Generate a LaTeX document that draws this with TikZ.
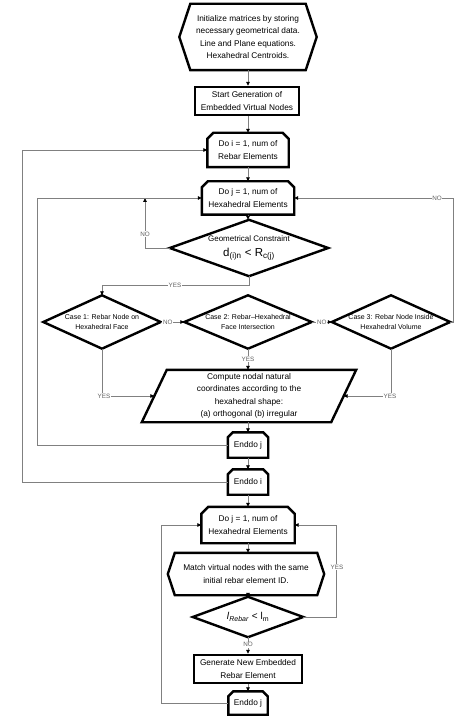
\documentclass[tikz,border=0pt]{standalone}
\usepackage{fontspec}
\setmainfont{Liberation Sans}
\usetikzlibrary{arrows.meta}
\definecolor{conn}{RGB}{128,128,128}
\definecolor{labc}{RGB}{95,95,95}
\begin{document}
\begin{tikzpicture}[x=1pt,y=-1pt,
  txt/.style={inner sep=0pt, align=center, font=\fontsize{8.3}{12.5}\selectfont},
  small/.style={inner sep=0pt, align=center, font=\fontsize{7}{10}\selectfont},
  outline/.style={draw=black, line width=2.4pt},
  boxed/.style={txt, draw=black, line width=2.4pt},
  conn/.style={draw=conn, line width=0.8pt},
  arr/.style={conn, -{Triangle[length=4pt,width=3.6pt,color=black]}},
  lab/.style={fill=white, inner sep=0.6pt, text=labc, font=\fontsize{6.3}{6.3}\selectfont},
]
\fill[white] (0,0) rectangle (474,719);
\useasboundingbox (0,0) rectangle (474,719);

% ---------- nodes ----------
\node[txt, minimum width=115pt, minimum height=66pt] (init) at (248,37)
  {Initialize matrices by storing\\necessary geometrical data.\\Line and Plane equations.\\Hexahedral Centroids.};
\draw[outline] ([xshift=-11pt]init.west) -- (init.north west) -- (init.north east)
  -- ([xshift=11pt]init.east) -- (init.south east) -- (init.south west) -- cycle;

\node[boxed, minimum width=104pt, minimum height=28pt] (start) at (247,101)
  {Start Generation of\\Embedded Virtual Nodes};

\node[txt, minimum width=81pt, minimum height=34pt] (doi) at (248,150)
  {Do i = 1, num of\\Rebar Elements};
\draw[outline] (doi.south west) -- ([yshift=-6pt]doi.north west) -- ([xshift=6pt]doi.north west)
  -- ([xshift=-6pt]doi.north east) -- ([yshift=-6pt]doi.north east) -- (doi.south east) -- cycle;

\node[txt, minimum width=92pt, minimum height=33pt] (doj) at (248,198)
  {Do j = 1, num of\\Hexahedral Elements};
\draw[outline] (doj.south west) -- ([yshift=-6pt]doj.north west) -- ([xshift=6pt]doj.north west)
  -- ([xshift=-6pt]doj.north east) -- ([yshift=-6pt]doj.north east) -- (doj.south east) -- cycle;

\node[txt, minimum width=158pt, minimum height=56pt, font=\fontsize{8}{12}\selectfont] (geo) at (249,248)
  {Geometrical Constraint\\[3pt]{\fontsize{11.5}{13}\selectfont d\textsubscript{(i)n} {<} R\textsubscript{c(j)}}};
\draw[outline] (geo.north) -- (geo.east) -- (geo.south) -- (geo.west) -- cycle;

\node[small, minimum width=117pt, minimum height=53pt] (case1) at (102,322)
  {Case 1: Rebar Node on\\Hexahedral Face};
\draw[outline] (case1.north) -- (case1.east) -- (case1.south) -- (case1.west) -- cycle;

\node[small, minimum width=127pt, minimum height=53pt] (case2) at (248,322)
  {Case 2: Rebar–Hexahedral\\Face Intersection};
\draw[outline] (case2.north) -- (case2.east) -- (case2.south) -- (case2.west) -- cycle;

\node[small, minimum width=118pt, minimum height=53pt] (case3) at (391,322)
  {Case 3: Rebar Node Inside\\Hexahedral Volume};
\draw[outline] (case3.north) -- (case3.east) -- (case3.south) -- (case3.west) -- cycle;

\node[txt, minimum width=189pt, minimum height=52pt] (comp) at (249,396)
  {Compute nodal natural\\coordinates according to the\\hexahedral shape:\\(a) orthogonal (b) irregular};
\draw[outline] ([xshift=12.5pt]comp.north west) -- ([xshift=12.5pt]comp.north east)
  -- ([xshift=-12.5pt]comp.south east) -- ([xshift=-12.5pt]comp.south west) -- cycle;

\node[txt, minimum width=40pt, minimum height=25pt] (endj) at (248,445) {Enddo j};
\draw[outline] (endj.south west) -- ([yshift=-5pt]endj.north west) -- ([xshift=5pt]endj.north west)
  -- ([xshift=-5pt]endj.north east) -- ([yshift=-5pt]endj.north east) -- (endj.south east) -- cycle;

\node[txt, minimum width=40pt, minimum height=25pt] (endi) at (248,482) {Enddo i};
\draw[outline] (endi.south west) -- ([yshift=-5pt]endi.north west) -- ([xshift=5pt]endi.north west)
  -- ([xshift=-5pt]endi.north east) -- ([yshift=-5pt]endi.north east) -- (endi.south east) -- cycle;

\node[txt, minimum width=93pt, minimum height=36pt] (doj2) at (248,525)
  {Do j = 1, num of\\Hexahedral Elements};
\draw[outline] (doj2.south west) -- ([yshift=-7pt]doj2.north west) -- ([xshift=7pt]doj2.north west)
  -- ([xshift=-7pt]doj2.north east) -- ([yshift=-7pt]doj2.north east) -- (doj2.south east) -- cycle;

\node[txt, minimum width=142pt, minimum height=42pt] (match) at (246,574)
  {Match virtual nodes with the same\\initial rebar element ID.};
\draw[outline] ([xshift=-7pt]match.west) -- (match.north west) -- (match.north east)
  -- ([xshift=7pt]match.east) -- (match.south east) -- (match.south west) -- cycle;

\node[txt, minimum width=110pt, minimum height=40pt] (lreb) at (248,617)
  {{\fontsize{10}{12}\selectfont\textit{l}\textsubscript{\textit{Rebar}} {<} l\textsubscript{m}}};
\draw[outline] (lreb.north) -- (lreb.east) -- (lreb.south) -- (lreb.west) -- cycle;

\node[boxed, minimum width=108pt, minimum height=28pt] (gen) at (248,669)
  {Generate New Embedded\\Rebar Element};

\node[txt, minimum width=39pt, minimum height=23pt] (endj2) at (248,703) {Enddo j};
\draw[outline] (endj2.south west) -- ([yshift=-5pt]endj2.north west) -- ([xshift=5pt]endj2.north west)
  -- ([xshift=-5pt]endj2.north east) -- ([yshift=-5pt]endj2.north east) -- (endj2.south east) -- cycle;

% ---------- connectors ----------
\draw[arr] (init.south) -- (init.south |- start.north);
\draw[arr] (start.south -| doi.north) -- (doi.north);
\draw[arr] (doi.south) -- (doj.north);
\draw[arr] (doj.south) -- (geo.north -| doj.south);

\coordinate (nohit) at (145,198);
\draw[arr] (geo.west) -| (nohit);
\node[lab] (lno1) at (145,234) {NO};

\draw[arr] (geo.south) -- ++(0,9) -| (case1.north);
\node[lab] (lyes1) at (175,285) {YES};

\draw[arr] (case1.east) -- (case2.west) node[lab, pos=0.3] (lno2) {NO};
\draw[arr] (case2.east) -- (case3.west) node[lab, pos=0.5] (lno3) {NO};

\draw[arr] (case3.east) -- ++(3.5,0) |- (doj.east);
\node[lab] (lno4) at (437,198) {NO};

\draw[arr] (case2.south) -- (comp.north -| case2.south) node[lab, pos=0.5] (lyes2) {YES};
\draw[arr] (case1.south) |- (comp.west);
\node[lab] (lyes3) at (104,396) {YES};
\draw[arr] (case3.south) |- (comp.east);
\node[lab] (lyes4) at (390,396) {YES};

\draw[arr] (comp.south -| endj.north) -- (endj.north);
\draw[arr] (endj.south) -- (endi.north);
\draw[arr] (endj.west) -- ++(-190,0) |- (doj.west);
\draw[arr] (endi.west) -- ++(-205,0) |- (doi.west);

\draw[arr] (endi.south) -- (doj2.north);
\draw[arr] (doj2.south) -- (doj2.south |- match.north);
\draw[arr] (match.south -| lreb.north) -- (lreb.north);
\draw[arr] (lreb.east) -- ++(33,0) |- (doj2.east);
\node[lab] (lyes5) at (337,567) {YES};
\draw[arr] (lreb.south) -- (gen.north) node[lab, pos=0.45] (lno5) {NO};
\draw[arr] (gen.south) -- (endj2.north);
\draw[arr] (endj2.west) -- ++(-67,0) |- (doj2.west);
\end{tikzpicture}
\end{document}
